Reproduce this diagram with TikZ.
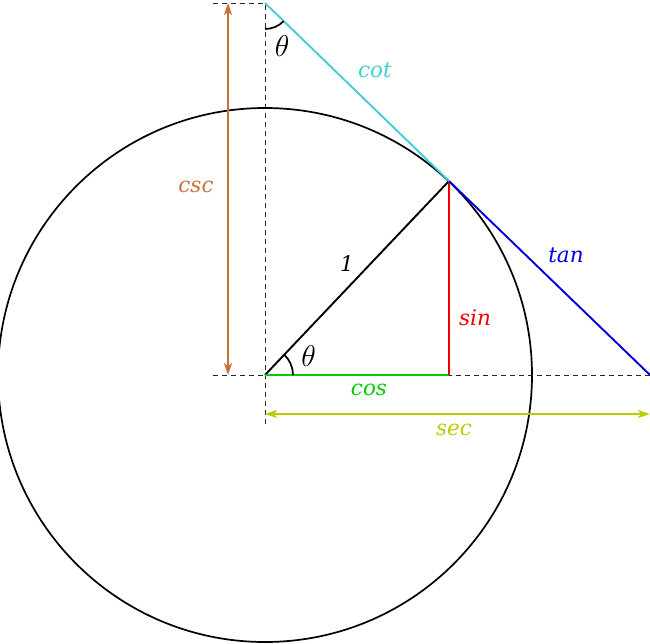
\RequirePackage{fix-cm}
\documentclass[tikz,border=0pt]{standalone}
\usepackage{fontspec}
\setmainfont{DejaVu Serif}
\usetikzlibrary{arrows.meta}
\definecolor{cotc}{RGB}{64,208,208}
\definecolor{cscc}{RGB}{200,113,55}
\definecolor{secc}{RGB}{187,204,0}
\definecolor{cosc}{RGB}{0,204,0}
\definecolor{sinc}{RGB}{238,0,0}
\definecolor{tanc}{RGB}{0,0,220}
\begin{document}
\begin{tikzpicture}[x=1pt,y=-1pt,
  guide/.style={draw=black!85,dashed,line width=1pt,dash pattern=on 5pt off 4pt},
  seg/.style={line width=1.9pt},
  lbl/.style={font=\fontsize{21.5}{25}\selectfont\itshape,inner sep=1pt},
  ang/.style={font=\fontsize{30}{34}\selectfont,inner sep=1pt},
  dim/.style={line width=1.9pt,{Stealth[length=12pt,width=8pt,inset=3pt]}-{Stealth[length=12pt,width=8pt,inset=3pt]}}]
\useasboundingbox (0,0) rectangle (650,643);
\coordinate (O) at (265,375);
\coordinate (P) at (449,181);
\coordinate (T) at (650,375);
\coordinate (C) at (265,3);
\coordinate (Q) at (449,375);
\coordinate (TL) at (213,3);
\coordinate (OL) at (213,375);
\coordinate (OB) at (265,427);
\coordinate (TB) at (650,427);
% guides
\draw[guide] (TL) -- (C) -- (OB);
\draw[guide] (OL) -- (T) -- (TB);
% circle
\draw[line width=1.7pt] (O) circle[radius=267];
% segments
\draw[seg,black] (O) -- (P);
\draw[seg,cosc] (O) -- (Q);
\draw[seg,sinc] (Q) -- (P);
\draw[seg,tanc] (P) -- (T);
\draw[seg,cotc] (C) -- (P);
% angle arcs
\draw[line width=1.7pt] ([shift={(28,0)}]O) arc[start angle=0,end angle=-46.5,radius=28];
\draw[line width=1.7pt] ([shift={(0,26)}]C) arc[start angle=90,end angle=44,radius=26];
% dimension arrows
\coordinate (cscA) at (228,3);
\coordinate (cscB) at (228,375);
\coordinate (secA) at (265,414);
\coordinate (secB) at (650,414);
\draw[dim,cscc] (cscA) -- (cscB);
\draw[dim,secc] (secA) -- (secB);
% labels
\node[ang] (th1) at (308.5,356.5) {$\theta$};
\node[ang] (th2) at (282,46) {$\theta$};
\node[lbl,cotc] (lcot) at (375,70) {cot};
\node[lbl,cscc] (lcsc) at (196,187) {csc};
\node[lbl] (lone) at (347,264) {1};
\node[lbl,sinc] (lsin) at (475,318) {sin};
\node[lbl,tanc] (ltan) at (566,255) {tan};
\node[lbl,cosc] (lcos) at (369,390) {cos};
\node[lbl,secc] (lsec) at (454,430) {sec};
\end{tikzpicture}
\end{document}
